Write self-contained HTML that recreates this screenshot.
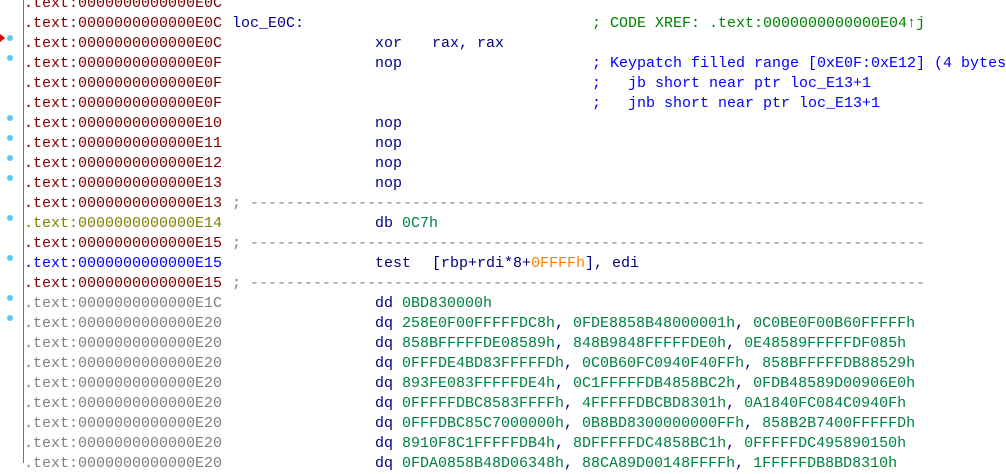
<!DOCTYPE html>
<html><head><meta charset="utf-8"><style>
body{margin:0;width:1006px;height:463px;overflow:hidden;background:#fff;position:relative;font-family:"Liberation Mono",monospace;font-size:15px}
#w{position:absolute;left:0;top:2px;width:1006px;height:463px}
.r{position:absolute;left:0;height:20px;line-height:20px;white-space:pre;width:1006px}
.r span{position:absolute;top:0}
.a{left:24px;color:#800000}.g{color:#808080!important}.o{color:#808000!important}.b{color:#0000ff!important}
.l{left:232px;color:#000080}.m{left:375px;color:#000080}.p{left:432px;color:#000080}.v{left:402px;color:#008040}
.c{left:592px;color:#0000ff}.cg{left:592px;color:#008000}.d{left:232px;color:#808080}
.dot{position:absolute;left:7px;width:6px;height:6px;border-radius:3px;background:#5ac8fa}
i{font-style:normal;color:#000080}
</style></head><body>
<div style="position:absolute;left:23px;top:0;width:1px;height:463px;background:#3a7fd6"></div>
<div style="position:absolute;left:0;top:34px;width:0;height:0;border-top:4px solid transparent;border-bottom:4px solid transparent;border-left:5px solid #e00000"></div>
<div class="dot" style="top:35px"></div><div class="dot" style="top:55px"></div>
<div class="dot" style="top:115px"></div><div class="dot" style="top:135px"></div>
<div class="dot" style="top:155px"></div><div class="dot" style="top:175px"></div>
<div class="dot" style="top:215px"></div><div class="dot" style="top:255px"></div>
<div class="dot" style="top:295px"></div><div class="dot" style="top:315px"></div>
<div id="w">
<div class="r" style="top:-8px"><span class="a">.text:0000000000000E0C</span></div>
<div class="r" style="top:12px"><span class="a">.text:0000000000000E0C</span><span class="l">loc_E0C:</span><span class="cg">; CODE XREF: .text:0000000000000E04↑j</span></div>
<div class="r" style="top:32px"><span class="a">.text:0000000000000E0C</span><span class="m">xor</span><span class="p">rax, rax</span></div>
<div class="r" style="top:52px"><span class="a">.text:0000000000000E0F</span><span class="m">nop</span><span class="c">; Keypatch filled range [0xE0F:0xE12] (4 bytes)</span></div>
<div class="r" style="top:72px"><span class="a">.text:0000000000000E0F</span><span class="c">;   jb short near ptr loc_E13+1</span></div>
<div class="r" style="top:92px"><span class="a">.text:0000000000000E0F</span><span class="c">;   jnb short near ptr loc_E13+1</span></div>
<div class="r" style="top:112px"><span class="a">.text:0000000000000E10</span><span class="m">nop</span></div>
<div class="r" style="top:132px"><span class="a">.text:0000000000000E11</span><span class="m">nop</span></div>
<div class="r" style="top:152px"><span class="a">.text:0000000000000E12</span><span class="m">nop</span></div>
<div class="r" style="top:172px"><span class="a">.text:0000000000000E13</span><span class="m">nop</span></div>
<div class="r" style="top:192px"><span class="a">.text:0000000000000E13</span><span class="d">; ---------------------------------------------------------------------------</span></div>
<div class="r" style="top:212px"><span class="a o">.text:0000000000000E14</span><span class="m">db</span><span class="v">0C7h</span></div>
<div class="r" style="top:232px"><span class="a">.text:0000000000000E15</span><span class="d">; ---------------------------------------------------------------------------</span></div>
<div class="r" style="top:252px"><span class="a b">.text:0000000000000E15</span><span class="m">test</span><span class="p">[rbp+rdi*8+<b style="font-weight:normal;color:#ff8000">0FFFFh</b>], edi</span></div>
<div class="r" style="top:272px"><span class="a">.text:0000000000000E15</span><span class="d">; ---------------------------------------------------------------------------</span></div>
<div class="r" style="top:292px"><span class="a g">.text:0000000000000E1C</span><span class="m">dd</span><span class="v">0BD830000h</span></div>
<div class="r" style="top:312px"><span class="a g">.text:0000000000000E20</span><span class="m">dq</span><span class="v">258E0F00FFFFFDC8h<i>, </i>0FDE8858B48000001h<i>, </i>0C0BE0F00B60FFFFFh</span></div>
<div class="r" style="top:332px"><span class="a g">.text:0000000000000E20</span><span class="m">dq</span><span class="v">858BFFFFFDE08589h<i>, </i>848B9848FFFFFDE0h<i>, </i>0E48589FFFFFDF085h</span></div>
<div class="r" style="top:352px"><span class="a g">.text:0000000000000E20</span><span class="m">dq</span><span class="v">0FFFDE4BD83FFFFFDh<i>, </i>0C0B60FC0940F40FFh<i>, </i>858BFFFFFDB88529h</span></div>
<div class="r" style="top:372px"><span class="a g">.text:0000000000000E20</span><span class="m">dq</span><span class="v">893FE083FFFFFDE4h<i>, </i>0C1FFFFFDB4858BC2h<i>, </i>0FDB48589D00906E0h</span></div>
<div class="r" style="top:392px"><span class="a g">.text:0000000000000E20</span><span class="m">dq</span><span class="v">0FFFFFDBC8583FFFFh<i>, </i>4FFFFFDBCBD8301h<i>, </i>0A1840FC084C0940Fh</span></div>
<div class="r" style="top:412px"><span class="a g">.text:0000000000000E20</span><span class="m">dq</span><span class="v">0FFFDBC85C7000000h<i>, </i>0B8BD8300000000FFh<i>, </i>858B2B7400FFFFFDh</span></div>
<div class="r" style="top:432px"><span class="a g">.text:0000000000000E20</span><span class="m">dq</span><span class="v">8910F8C1FFFFFDB4h<i>, </i>8DFFFFFDC4858BC1h<i>, </i>0FFFFFDC495890150h</span></div>
<div class="r" style="top:452px"><span class="a g">.text:0000000000000E20</span><span class="m">dq</span><span class="v">0FDA0858B48D06348h<i>, </i>88CA89D00148FFFFh<i>, </i>1FFFFFDB8BD8310h</span></div>
</div>
</body></html>
